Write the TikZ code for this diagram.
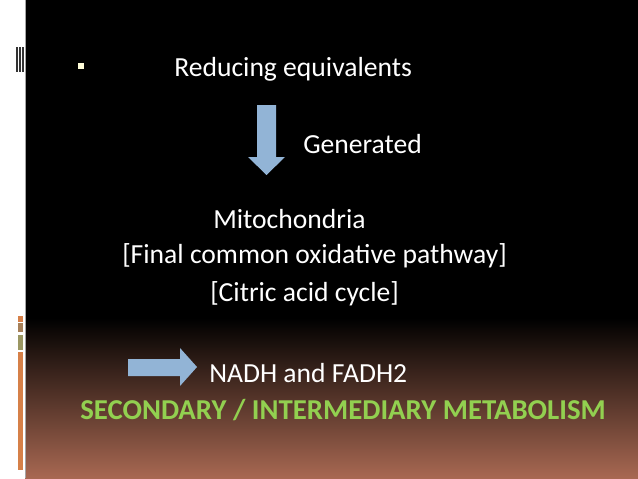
\documentclass[tikz,border=0pt]{standalone}
\usepackage{fontspec}
\setmainfont{Carlito}
\begin{document}
\begin{tikzpicture}[x=0.75pt,y=-0.75pt,
  txt/.style={text=white,font=\fontsize{20.7}{24}\selectfont,inner sep=0pt,anchor=west},
  arr/.style={fill=arrowblue,draw=none}]
\definecolor{arrowblue}{RGB}{146,180,214}
\definecolor{botbrown}{RGB}{168,104,82}
\definecolor{grn}{RGB}{146,208,80}
\definecolor{orng}{RGB}{214,128,72}
\useasboundingbox (0,0) rectangle (638,478);
\fill[white] (0,0) rectangle (638,478);
\fill[black] (25,0) rectangle (638,478);
\shade[top color=black,bottom color=botbrown] (25,318) rectangle (638,478);
\draw[gray!70,line width=0.6pt] (25,0) -- (25,478);
% top-left bars
\foreach \xx in {16,19,22} \fill[gray!40!black] (\xx,47) rectangle ++(1.6,25);
% bottom-left bars
\fill[orng] (18,316) rectangle (23,322);
\fill[brown!60!gray] (18,323) rectangle (23,332);
\fill[olive!40!gray!90] (18,335) rectangle (23,350);
\fill[orng] (18,352) rectangle (23,470);
% bullet
\fill[yellow!15!white] (78,63) rectangle (84,69);
\node[txt] (t1) at (174,69) {Reducing equivalents};
\node[txt] (t2) at (303,144) {Generated};
\node[txt] (t3) at (213,219) {Mitochondria};
\node[txt] (t4) at (122,256) {[Final common oxidative pathway]};
\node[txt] (t5) at (210,294) {[Citric acid cycle]};
\node[txt] (t6) at (209,373) {NADH and FADH2};
\node[txt,text=grn,font=\fontsize{21.6}{25}\selectfont\bfseries] (t7) at (80,410) {SECONDARY / INTERMEDIARY METABOLISM};
% arrows
\fill[arr] (257,105) -- (276,105) -- (276,157) -- (285,157) -- (266.5,175) -- (248,157) -- (257,157) -- cycle;
\fill[arr] (128,359) -- (180,359) -- (180,348) -- (197,367) -- (180,386) -- (180,376) -- (128,376) -- cycle;
\end{tikzpicture}
\end{document}
